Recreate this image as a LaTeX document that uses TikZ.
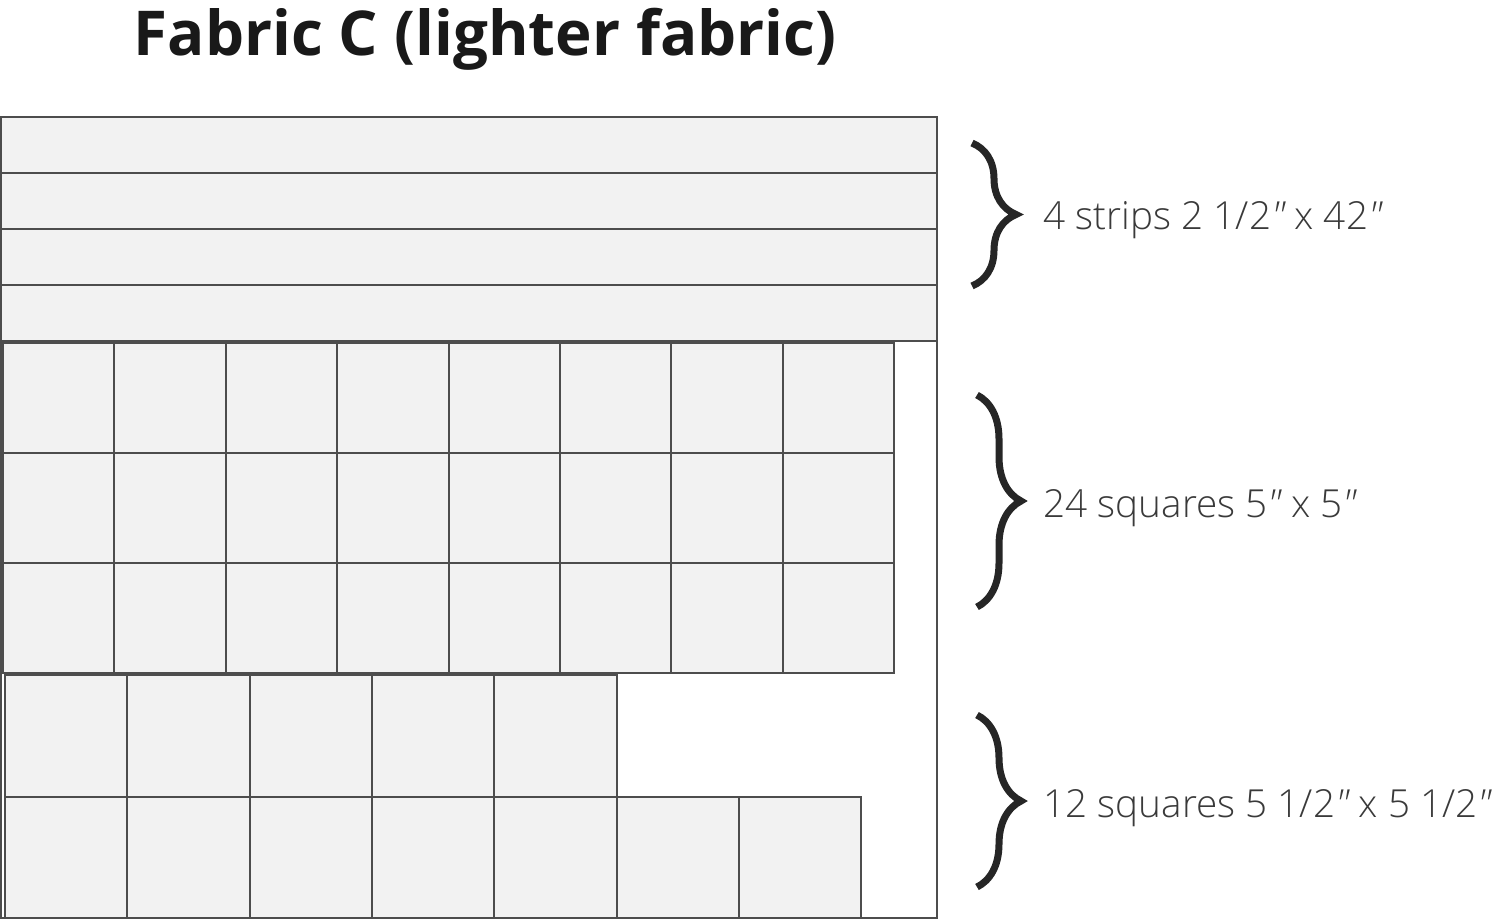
\documentclass[tikz,border=0pt]{standalone}
\usepackage{fontspec}
\setmainfont{Open Sans}
\newfontfamily\lightfont{Open Sans}[UprightFont={* Light}]
\usetikzlibrary{decorations.pathreplacing}
\definecolor{piece}{HTML}{F2F2F2}
\definecolor{seam}{HTML}{4D4D4D}
\definecolor{labelgray}{HTML}{3A3A3A}
\newcommand{\inch}{{\itshape ″}}
\tikzset{
  cut/.style={fill=piece, draw=seam, line width=0.2mm},
  bracket/.style={decorate, decoration={brace, amplitude=4.4mm}, line width=0.7mm, black!85},
  cutlabel/.style={anchor=base west, inner sep=0pt, font=\lightfont\fontsize{11}{13}\selectfont, text=labelgray},
}
\begin{document}
\begin{tikzpicture}[x=0.1mm, y=-0.1mm]
    \useasboundingbox (0,0) rectangle (1500,920);
    % title
    \node[anchor=base west, inner sep=0pt, font=\fontsize{17.6}{21}\selectfont\bfseries, text=black!90] (title) at (133,55) {Fabric C (lighter fabric)};
    % fabric piece
    \draw[seam, line width=0.2mm, fill=white] (1,117) rectangle (937,918);
    % strips
    \foreach \i in {0,...,3}
        \draw[cut] (1,117+56*\i) rectangle (937,173+56*\i);
    % 5in squares
    \foreach \r in {0,1,2}
        \foreach \c in {0,...,7}
            \draw[cut] (3+111.4*\c,343+110*\r) rectangle ++(111.4,110);
    % 5 1/2in squares
    \foreach \c in {0,...,4}
        \draw[cut] (5+122.3*\c,675) rectangle ++(122.3,121.5);
    \foreach \c in {0,...,6}
        \draw[cut] (5+122.3*\c,796.5) rectangle ++(122.3,121.5);
    \draw[seam, line width=0.2mm] (1,117) rectangle (937,918);
    % braces
    \coordinate (b1top) at (972,143);
    \coordinate (b1bot) at (972,286);
    \coordinate (b2top) at (977,395);
    \coordinate (b2bot) at (977,607);
    \coordinate (b3top) at (977,715);
    \coordinate (b3bot) at (977,887);
    \draw[bracket] (b1top) -- (b1bot);
    \draw[bracket] (b2top) -- (b2bot);
    \draw[bracket] (b3top) -- (b3bot);
    % labels
    \node[cutlabel] (strips) at (1043,229) {4 strips 2 1/2\inch{} x 42\inch};
    \node[cutlabel] (small) at (1043,517) {24 squares 5\inch{} x 5\inch};
    \node[cutlabel] (large) at (1043,817) {12 squares 5 1/2\inch{} x 5 1/2\inch};
\end{tikzpicture}
\end{document}
